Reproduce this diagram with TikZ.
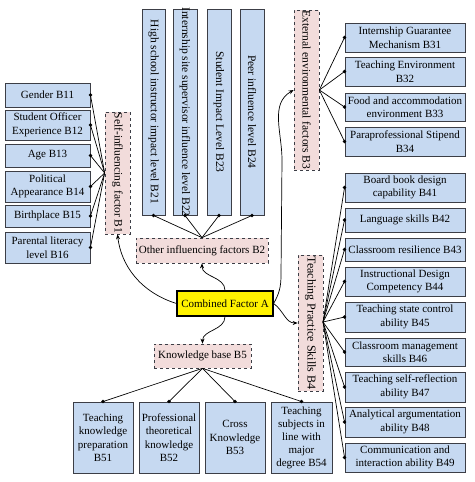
\documentclass[tikz,border=0pt]{standalone}
\usepackage{fontspec}
\setmainfont{Liberation Serif}
\usetikzlibrary{arrows.meta}
\definecolor{bfill}{RGB}{198,217,241}
\definecolor{bdraw}{RGB}{60,62,70}
\definecolor{pfill}{RGB}{242,220,219}
\begin{document}
\begin{tikzpicture}[x=1pt,y=-1pt,
  bbox/.style={draw=bdraw,fill=bfill,line width=0.9pt,rectangle,inner sep=0pt,align=center,
    font=\fontsize{11}{13.5}\selectfont},
  pbox/.style={draw=bdraw,fill=pfill,dashed,line width=0.7pt,rectangle,inner sep=0pt,align=center,
    font=\fontsize{11}{13.5}\selectfont},
  vtext/.style={rotate=-90,font=\fontsize{11.5}{13.5}\selectfont,inner sep=0pt},
  abox/.style={draw=black,fill=yellow,line width=1.2pt,rectangle,inner sep=0pt,
    font=\fontsize{11}{13.5}\selectfont},
  link/.style={line width=0.7pt,black},
  arr/.style={line width=0.7pt,black,-{Stealth[length=5pt,width=4pt]}},
  dot/.style={circle,fill=black,inner sep=0pt,minimum size=3.8pt}
]
\useasboundingbox (0,0) rectangle (474,482);
% B1 group
\node[bbox,minimum width=85,minimum height=24] (b11) at (47.5,95) {Gender B11};
\node[bbox,minimum width=85,minimum height=30] (b12) at (47.5,125) {Student Officer\\Experience B12};
\node[bbox,minimum width=85,minimum height=23] (b13) at (47.5,155.5) {Age B13};
\node[bbox,minimum width=85,minimum height=31] (b14) at (47.5,186.5) {Political\\Appearance B14};
\node[bbox,minimum width=85,minimum height=22] (b15) at (47.5,216) {Birthplace B15};
\node[bbox,minimum width=85,minimum height=31] (b16) at (47.5,247.5) {Parental literacy\\level B16};
\node[pbox,minimum width=25,minimum height=122] (b1) at (117.5,173) {};
\node[vtext] at (b1) {Self-influencing factor B1};
\foreach \n in {b11,b12,b13,b14,b15,b16}{
  \node[dot] (\n d) at (\n.east) {};
  \draw[link] (b1.west) -- (\n d.center);
}
% B2 group
\node[bbox,minimum width=23,minimum height=206] (b21) at (153.5,112) {};
\node[vtext] at (b21) {High school instructor impact level B21};
\node[bbox,minimum width=24,minimum height=206] (b22) at (185,112) {};
\node[vtext] at (b22) {Internship site supervisor influence level B22};
\node[bbox,minimum width=24,minimum height=206] (b23) at (219,112) {};
\node[vtext] at (b23) {Student Impact Level B23};
\node[bbox,minimum width=24,minimum height=206] (b24) at (252,112) {};
\node[vtext] at (b24) {Peer influence level B24};
\node[pbox,minimum width=132,minimum height=25] (b2) at (202,250.5) {Other influencing factors B2};
\foreach \n in {b21,b22,b23,b24}{
  \node[dot] (\n d) at (\n.south) {};
  \draw[link] (b2.north) -- (\n d.center);
}
% B3 group
\node[pbox,minimum width=25,minimum height=160] (b3) at (306.5,90) {};
\node[vtext] at (b3) {External environmental factors B3};
\node[bbox,minimum width=120,minimum height=29] (b31) at (405,37.5) {Internship Guarantee\\Mechanism B31};
\node[bbox,minimum width=120,minimum height=29] (b32) at (405,71.5) {Teaching Environment\\B32};
\node[bbox,minimum width=120,minimum height=28] (b33) at (405,107) {Food and accommodation\\environment B33};
\node[bbox,minimum width=120,minimum height=29] (b34) at (405,141.5) {Paraprofessional Stipend\\B34};
\foreach \n in {b31,b32,b33,b34}{
  \node[dot] (\n d) at (\n.west) {};
  \draw[link] (b3.east) -- (\n d.center);
}
% B4 group
\node[pbox,minimum width=25,minimum height=136] (b4) at (310.5,323) {};
\node[vtext,font=\fontsize{12}{13.5}\selectfont] at (b4) {Teaching Practice Skills B4};
\node[bbox,minimum width=120,minimum height=29] (b41) at (405,187.5) {Board book design\\capability B41};
\node[bbox,minimum width=120,minimum height=24] (b42) at (405,220) {Language skills B42};
\node[bbox,minimum width=120,minimum height=23] (b43) at (405,249.5) {Classroom resilience B43};
\node[bbox,minimum width=120,minimum height=29] (b44) at (405,281.5) {Instructional Design\\Competency B44};
\node[bbox,minimum width=120,minimum height=30] (b45) at (405,317) {Teaching state control\\ability B45};
\node[bbox,minimum width=120,minimum height=28] (b46) at (405,352) {Classroom management\\skills B46};
\node[bbox,minimum width=120,minimum height=30] (b47) at (405,387) {Teaching self-reflection\\ability B47};
\node[bbox,minimum width=120,minimum height=30] (b48) at (405,422) {Analytical argumentation\\ability B48};
\node[bbox,minimum width=120,minimum height=29] (b49) at (405,457.5) {Communication and\\interaction ability B49};
\coordinate (b4c) at (323,322);
\foreach \n in {b41,b42,b43,b44,b45,b46,b47,b48,b49}{
  \node[dot] (\n d) at (\n.west) {};
  \draw[link] (b4c) -- (\n d.center);
}
% B5 group
\node[pbox,minimum width=97,minimum height=24] (b5) at (202.5,356) {Knowledge base B5};
\node[bbox,minimum width=60,minimum height=71] (b51) at (103,437.5) {Teaching\\knowledge\\preparation\\B51};
\node[bbox,minimum width=60,minimum height=71] (b52) at (169,437.5) {Professional\\theoretical\\knowledge\\B52};
\node[bbox,minimum width=60,minimum height=71] (b53) at (235,437.5) {Cross\\Knowledge\\B53};
\node[bbox,minimum width=61,minimum height=71,font=\fontsize{11}{13}\selectfont] (b54) at (301.5,437.5) {Teaching\\subjects in\\line with\\major\\degree B54};
\foreach \n in {b51,b52,b53,b54}{
  \node[dot] (\n d) at (\n.north) {};
  \draw[link] (b5.south) -- (\n d.center);
}
% Combined factor
\node[abox,minimum width=96,minimum height=25] (a) at (225,303.5) {Combined Factor A};
\draw[arr] (a.west) .. controls (140,292) and (121,265) .. (b1.south);
\draw[arr] (a.north) to[out=90,in=-90] (b2.south);
\draw[arr] (a.south) to[out=-90,in=90] (b5.north);
\draw[arr] (a.east) to[out=60,in=-90] (281,275) -- (282,160) to[out=90,in=-150] (b3.west);
\draw[arr] (a.east) to[out=-35,in=180] (b4.west);
\end{tikzpicture}
\end{document}
